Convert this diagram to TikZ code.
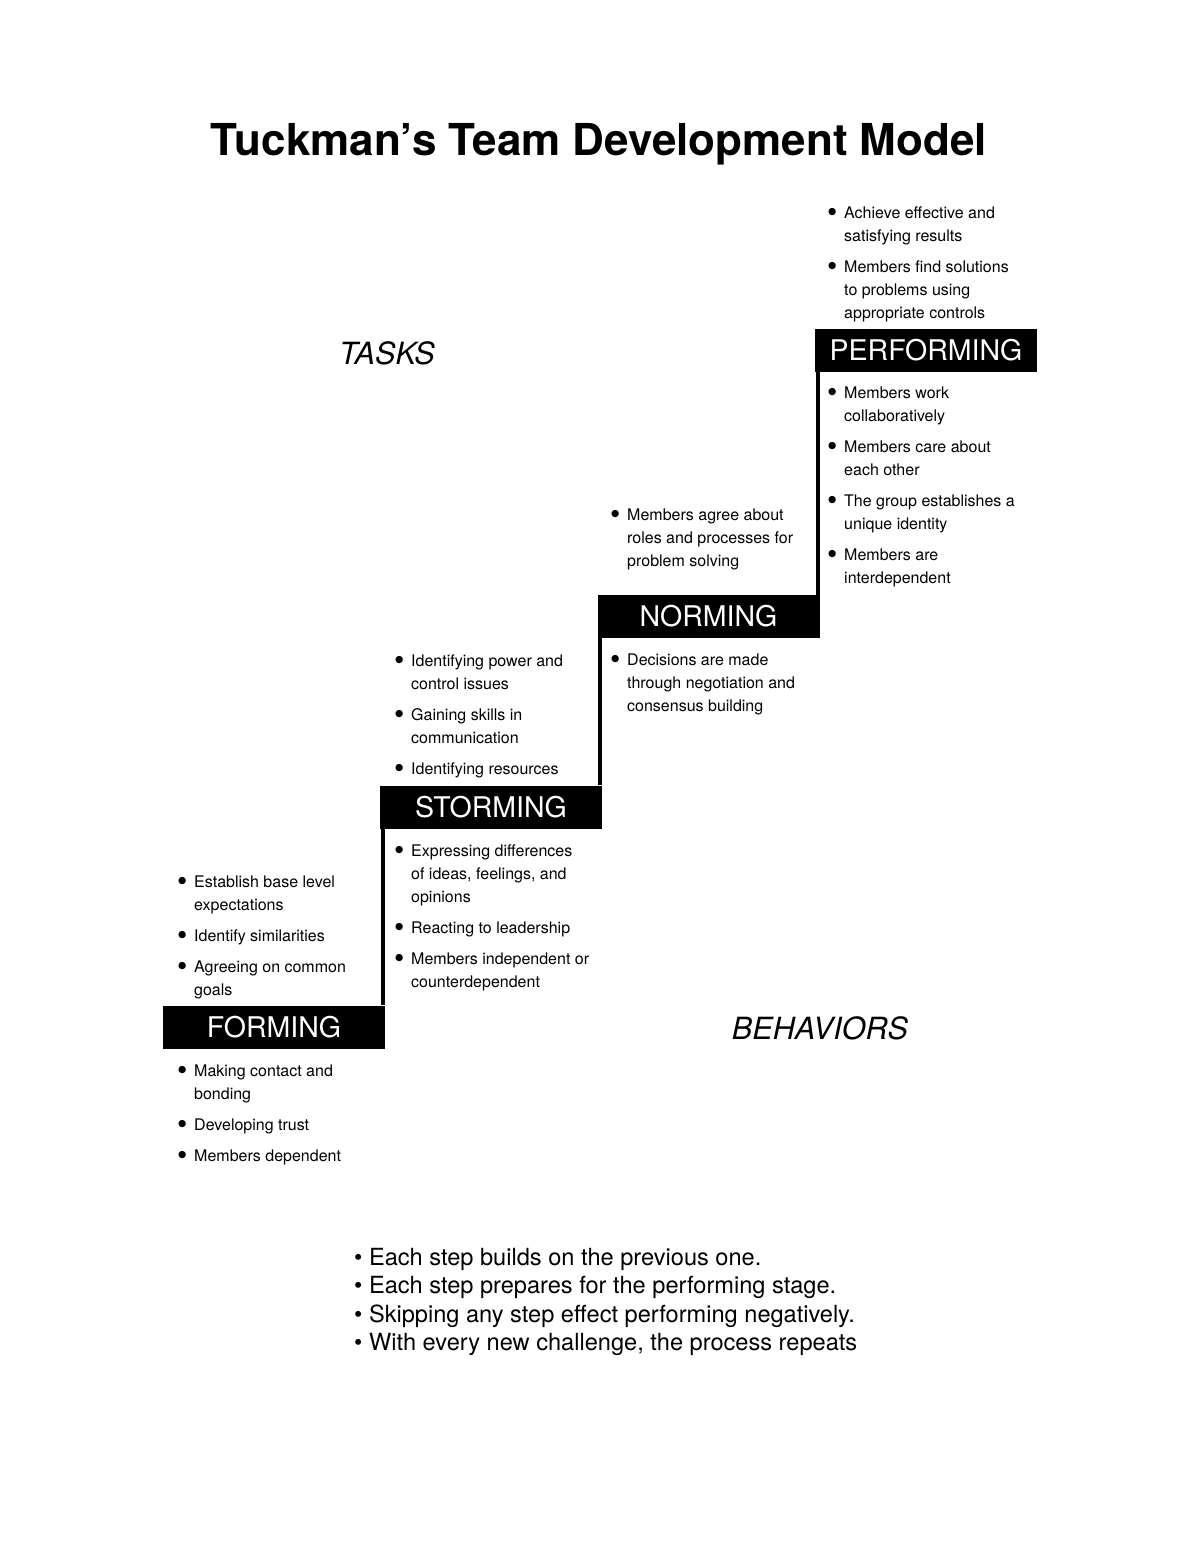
\documentclass[tikz,border=0pt]{standalone}
\usepackage{fontspec}
\setmainfont{TeX Gyre Heros}
\newfontfamily\dvs{DejaVu Sans}
\newcommand\bul{\makebox[16pt][l]{\raisebox{3.8pt}{\fontsize{9.5}{9.5}\dvs ●}}}
\newcommand\ind{\hspace*{16pt}}
\tikzset{
  bar/.style={fill=black, minimum width=222pt, minimum height=43pt, inner sep=0pt, text=white, font=\fontsize{28.5}{30}\selectfont},
  conn/.style={draw=black, line width=4pt},
  blist/.style={anchor=north west, inner sep=0pt, align=left, font=\fontsize{16}{23}\selectfont},
  axislabel/.style={anchor=base, inner sep=0pt, font=\fontsize{30.6}{32}\selectfont\itshape},
}
\begin{document}
\begin{tikzpicture}[x=1pt,y=-1pt]
\fill[white] (0,0) rectangle (1200,1553);
\useasboundingbox (0,0) rectangle (1200,1553);

\node[anchor=base, inner sep=0pt, font=\fontsize{44}{50}\selectfont\bfseries] (title) at (599,155) {Tuckman’s Team Development Model};

% bars
\node[bar] (form) at (274,1027) {FORMING};
\node[bar] (stor) at (491,807) {STORMING};
\node[bar] (norm) at (708.5,616.5) {NORMING};
\node[bar] (perf) at (926,350) {PERFORMING};

% risers
\draw[conn] ([xshift=-2pt]form.north east) -- ([xshift=-2pt]form.north east |- stor.south);
\draw[conn] ([xshift=-2pt]stor.north east) -- ([xshift=-2pt]stor.north east |- norm.south);
\draw[conn] ([xshift=-2pt]norm.north east) -- ([xshift=-2pt]norm.north east |- perf.south);

% axis labels
\node[axislabel] (tasks) at (387,364) {TASKS};
\node[axislabel] (behav) at (820,1039) {BEHAVIORS};

% bullet lists
\node[blist] (pt) at (828,202) {\strut\bul Achieve effective and\\\ind satisfying results\\[8pt]\bul Members find solutions\\\ind to problems using\\\ind appropriate controls};
\node[blist] (pb) at (828,382) {\strut\bul Members work\\\ind collaboratively\\[8pt]\bul Members care about\\\ind each other\\[8pt]\bul The group establishes a\\\ind unique identity\\[8pt]\bul Members are\\\ind interdependent};
\node[blist] (nt) at (611,504) {\strut\bul Members agree about\\\ind roles and processes for\\\ind problem solving};
\node[blist] (nb) at (611,649) {\strut\bul Decisions are made\\\ind through negotiation and\\\ind consensus building};
\node[blist] (st) at (395,650) {\strut\bul Identifying power and\\\ind control issues\\[8pt]\bul Gaining skills in\\\ind communication\\[8pt]\bul Identifying resources};
\node[blist] (sb) at (395,840) {\strut\bul Expressing differences\\\ind of ideas, feelings, and\\\ind opinions\\[8pt]\bul Reacting to leadership\\[8pt]\bul Members independent or\\\ind counterdependent};
\node[blist] (ft) at (178,871) {\strut\bul Establish base level\\\ind expectations\\[8pt]\bul Identify similarities\\[8pt]\bul Agreeing on common\\\ind goals};
\node[blist] (fb) at (178,1060) {\strut\bul Making contact and\\\ind bonding\\[8pt]\bul Developing trust\\[8pt]\bul Members dependent};

% summary
\node[anchor=north west, inner sep=0pt, align=left, font=\fontsize{23.6}{28.5}\selectfont] (summary) at (354,1245) {\strut• Each step builds on the previous one.\\• Each step prepares for the performing stage.\\• Skipping any step effect performing negatively.\\• With every new challenge, the process repeats};
\end{tikzpicture}
\end{document}
